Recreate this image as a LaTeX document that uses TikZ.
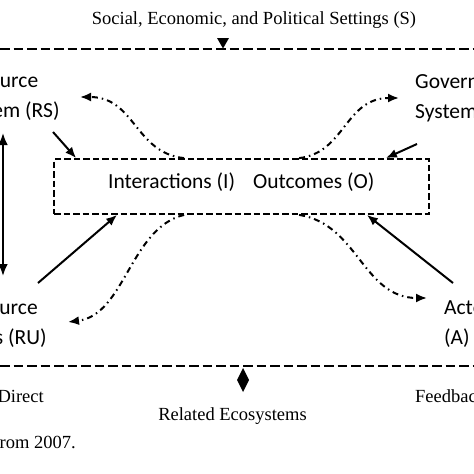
\documentclass[tikz,border=0pt]{standalone}
\usepackage{fontspec}
\setmainfont{Liberation Serif}
\newfontfamily\sansf{Carlito}
\usetikzlibrary{arrows.meta,calc}
\begin{document}
\begin{tikzpicture}[x=1pt,y=-1pt,
  lbl/.style={inner sep=0pt, font=\sansf\fontsize{21.5}{24}\selectfont},
  ser/.style={inner sep=0pt, font=\fontsize{18.5}{21}\selectfont},
  head/.style={-{Latex[length=11pt,width=9pt]}},
  solidarrow/.style={head, line width=2pt},
  fb/.style={head, line width=2pt, dash pattern=on 6pt off 4pt on 1.5pt off 4pt},
  bigdash/.style={line width=2.2pt, dash pattern=on 9.5pt off 4pt},
  boxdash/.style={line width=1.8pt, dash pattern=on 6.5pt off 3pt}]
\useasboundingbox (0,0) rectangle (474,474);
\fill[white] (0,0) rectangle (474,474);

% settings
\node[ser, anchor=base] (S) at (254,24) {Social, Economic, and Political Settings (S)};
\coordinate (topL) at (0,49);
\coordinate (topR) at (474,49);
\draw[bigdash] (topL) -- (topR);
\fill (217,38) -- (229,38) -- (223,48.5) -- cycle;

% central box
\node[draw, boxdash, minimum width=375pt, minimum height=55pt, inner sep=0pt] (box) at (241.5,186.5) {};
\node[lbl, anchor=base west] (I) at (108,188) {Interactions (I)};
\node[lbl, anchor=base west] (O) at (253,188) {Outcomes (O)};

% subsystems
\node[lbl, anchor=base west] (RS1) at (-42,87) {Resource};
\node[lbl, anchor=base west] (RS2) at (-42,117) {System (RS)};
\node[lbl, anchor=base west] (GS1) at (415,88) {Governance};
\node[lbl, anchor=base west] (GS2) at (415,118) {System (GS)};
\node[lbl, anchor=base west] (RU1) at (-42.5,314) {Resource};
\node[lbl, anchor=base west] (RU2) at (-42.5,344) {Units (RU)};
\node[lbl, anchor=base west] (A1) at (444,314) {Actors};
\node[lbl, anchor=base west] (A2) at (444,344) {(A)};

% direct links
\coordinate (rsA) at (53,132);
\coordinate (gsA) at (417,144);
\coordinate (ruA) at (38,283);
\coordinate (aA) at (453,283);
\draw[solidarrow] (rsA) -- ([xshift=23pt]box.north west);
\draw[solidarrow] (gsA) -- ([xshift=-44pt]box.north east);
\draw[solidarrow] (ruA) -- ([xshift=64pt]box.south west);
\draw[solidarrow] (aA) -- ([xshift=-63pt]box.south east);

% vertical double arrow
\coordinate (vTop) at (3,133);
\coordinate (vBot) at (3,276);
\draw[{Latex[length=12pt,width=10pt]}-{Latex[length=12pt,width=10pt]}, line width=2.6pt] (vTop) -- (vBot);

% feedbacks
\coordinate (fbRS) at (80,97);
\coordinate (fbGS) at (399,98);
\coordinate (fbRU) at (68,322);
\coordinate (fbA) at (427,298);
\draw[fb] ([xshift=131pt]box.north west) .. controls (135,153) and (135,97) .. (fbRS);
\draw[fb] ([xshift=246pt]box.north west) .. controls (345,153) and (345,98) .. (fbGS);
\draw[fb] ([xshift=131pt]box.south west) .. controls (130,228) and (125,315) .. (fbRU);
\draw[fb] ([xshift=246pt]box.south west) .. controls (358,224) and (363,298) .. (fbA);

% related ecosystems
\coordinate (botL) at (0,366);
\coordinate (botR) at (474,366);
\draw[bigdash] (botL) -- (botR);
\fill (243,368) -- (249,380) -- (243,392) -- (237,380) -- cycle;
\node[ser, anchor=base] (RE) at (232.5,420) {Related Ecosystems};
\node[ser, anchor=base east] (D) at (44,402) {Direct};
\node[ser, anchor=base west] (F) at (415,402) {Feedback};
\node[ser, anchor=base east] (src) at (76,448) {Ostrom 2007.};
\end{tikzpicture}
\end{document}
